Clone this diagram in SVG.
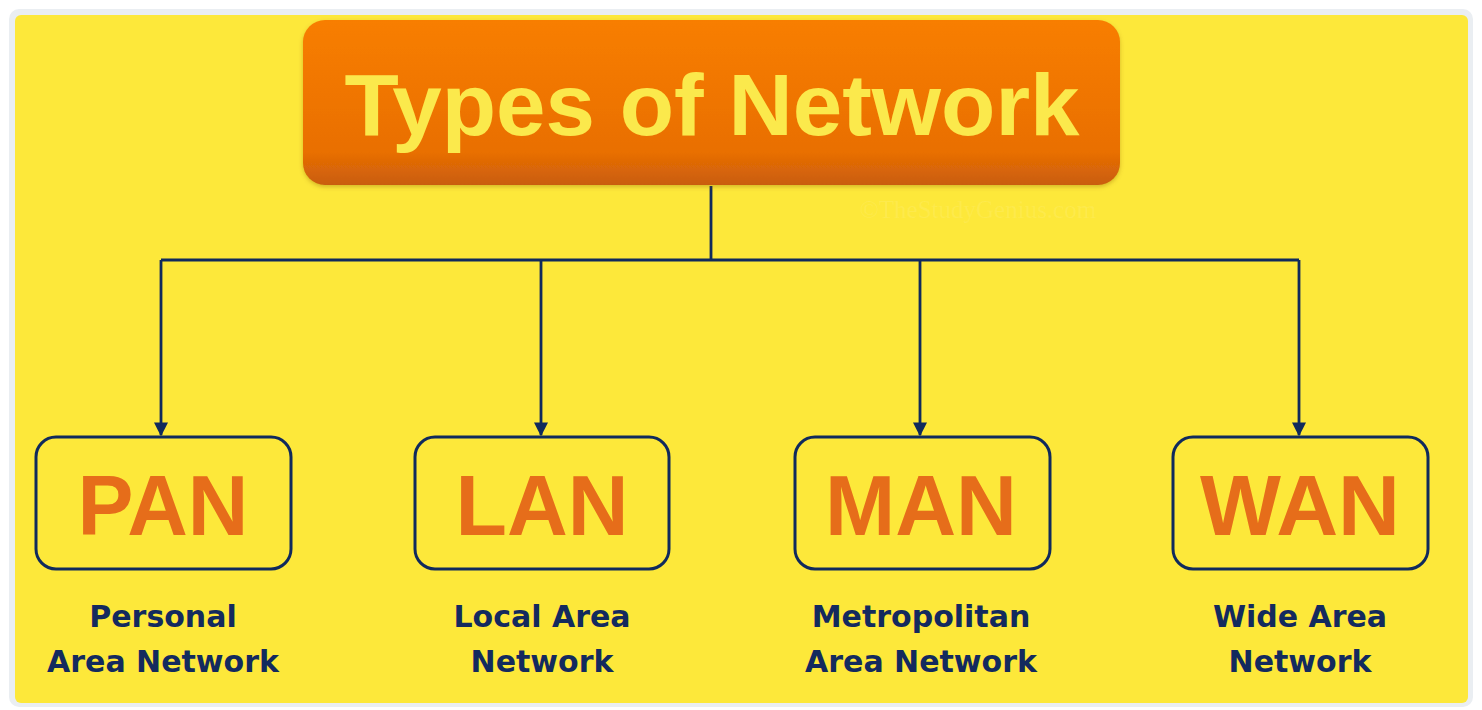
<svg xmlns="http://www.w3.org/2000/svg" width="1482" height="710" viewBox="0 0 1482 710">
  <style>
    .con { fill: none; stroke: #102a5c; stroke-width: 2.8; }
    .box { fill: #fde83a; stroke: #102a5c; stroke-width: 3; }
    .abbr { font-family: "Liberation Sans", Arial, sans-serif; font-weight: bold; font-size: 86px; fill: #e66d1a; text-anchor: middle; }
    .sub { font-family: "DejaVu Sans", Verdana, sans-serif; font-weight: bold; font-size: 30px; fill: #132a5e; text-anchor: middle; }
    .title { font-family: "Liberation Sans", Arial, sans-serif; font-weight: bold; font-size: 88px; fill: #fbe94c; text-anchor: middle; }
    .wm { font-family: "Liberation Serif", "Times New Roman", serif; font-size: 25px; fill: #ffffff; fill-opacity: 0.09; text-anchor: middle; }
  </style>
  <defs>
    <linearGradient id="og" x1="0" y1="0" x2="0" y2="1">
      <stop offset="0" stop-color="#f87e00"/>
      <stop offset="0.8" stop-color="#e96f04"/>
      <stop offset="1" stop-color="#c95d0a"/>
    </linearGradient>
    <filter id="sh" x="-5%" y="-10%" width="110%" height="125%">
      <feDropShadow dx="0" dy="2" stdDeviation="2" flood-color="#8a5a00" flood-opacity="0.35"/>
    </filter>
    <marker id="arr" viewBox="0 0 10 10" refX="9" refY="5" markerWidth="5" markerHeight="5" orient="auto" markerUnits="strokeWidth">
      <path d="M0,0 L10,5 L0,10 z" fill="#102a5c"/>
    </marker>
  </defs>
  <rect x="0" y="0" width="1482" height="710" fill="#ffffff"/>
  <rect x="9" y="9" width="1464" height="698" rx="10" fill="#eaeef2"/>
  <rect x="15" y="15" width="1453" height="688" rx="6" fill="#fde83a"/>
  <text class="wm" x="978" y="218">©TheStudyGenius.com</text>

  <g id="connectors">
    <path class="con" d="M711,186 V260"/>
    <path class="con" d="M161,260 H1299"/>
    <path class="con" d="M161,260 V435" marker-end="url(#arr)"/>
    <path class="con" d="M541,260 V435" marker-end="url(#arr)"/>
    <path class="con" d="M920,260 V435" marker-end="url(#arr)"/>
    <path class="con" d="M1299,260 V435" marker-end="url(#arr)"/>
  </g>

  <g id="title">
    <rect x="303" y="20" width="817" height="165" rx="22" fill="url(#og)" filter="url(#sh)"/>
    <text class="title" x="712" y="135" textLength="735" lengthAdjust="spacingAndGlyphs">Types of Network</text>
  </g>

  <g id="pan">
    <rect class="box" x="36" y="437" width="255" height="132" rx="20"/>
    <text class="abbr" x="163" y="535" textLength="171" lengthAdjust="spacingAndGlyphs">PAN</text>
    <text class="sub" x="163" y="627">Personal</text>
    <text class="sub" x="163" y="672">Area Network</text>
  </g>

  <g id="lan">
    <rect class="box" x="415" y="437" width="254" height="132" rx="20"/>
    <text class="abbr" x="542" y="535" textLength="173" lengthAdjust="spacingAndGlyphs">LAN</text>
    <text class="sub" x="542" y="627">Local Area</text>
    <text class="sub" x="542" y="672">Network</text>
  </g>

  <g id="man">
    <rect class="box" x="795" y="437" width="255" height="132" rx="20"/>
    <text class="abbr" x="921" y="535" textLength="192" lengthAdjust="spacingAndGlyphs">MAN</text>
    <text class="sub" x="921" y="627">Metropolitan</text>
    <text class="sub" x="921" y="672">Area Network</text>
  </g>

  <g id="wan">
    <rect class="box" x="1173" y="437" width="255" height="132" rx="20"/>
    <text class="abbr" x="1300" y="535" textLength="200" lengthAdjust="spacingAndGlyphs">WAN</text>
    <text class="sub" x="1300" y="627">Wide Area</text>
    <text class="sub" x="1300" y="672">Network</text>
  </g>
</svg>
